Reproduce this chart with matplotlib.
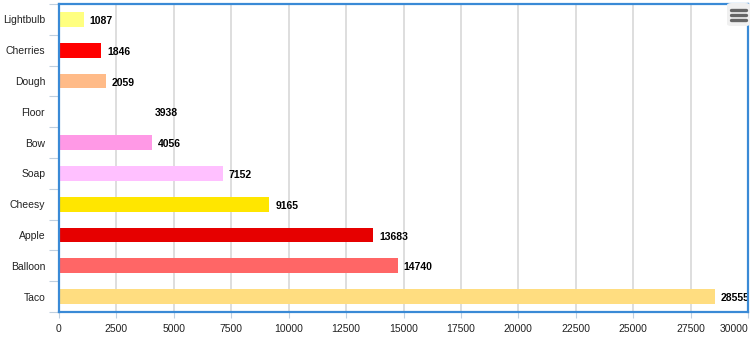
import numpy as np
import matplotlib.pyplot as plt
from matplotlib.patches import FancyBboxPatch
from matplotlib.ticker import FixedLocator

# data
categories = ["Lightbulb", "Cherries", "Dough", "Floor", "Bow",
              "Soap", "Cheesy", "Apple", "Balloon", "Taco"]
values = [1087, 1846, 2059, 3938, 4056, 7152, 9165, 13683, 14740, 28555]
bar_colors = ["#ffff80", "#ff0000", "#ffbb88", "none", "#ff99e6",
              "#ffc0ff", "#ffe600", "#e60000", "#ff6666", "#ffdd80"]
x_ticks = list(range(0, 30001, 2500))

plt.rcParams['font.family'] = ['Liberation Sans', 'DejaVu Sans']

fig = plt.figure(figsize=(7.55, 3.39), dpi=100)
ax = fig.add_axes([59 / 755, 1 - 312 / 339, 689 / 755, 308 / 339])

y = np.arange(len(categories))
ax.barh(y, values, height=0.48, color=bar_colors, zorder=3)

for yi, v in zip(y, values):
    ax.text(v + 250, yi + 0.05, str(v), va="center", ha="left",
            fontsize=7.5, fontweight="bold", color="#000000", zorder=4)

ax.set_xlim(0, 30000)
ax.set_ylim(len(categories) - 0.5, -0.5)

ax.set_xticks(x_ticks)
ax.set_xticklabels([str(t) for t in x_ticks])
ax.get_xticklabels()[-1].set_horizontalalignment("right")
ax.set_yticks(y)
ax.set_yticklabels(categories)
ax.yaxis.set_minor_locator(FixedLocator(np.arange(-0.5, len(categories), 1.0)))

ax.tick_params(axis="y", which="major", length=0, pad=10, labelsize=7.5,
               labelcolor="#222222")
ax.tick_params(axis="y", which="minor", length=7, width=0.8, color="#c0d0e0")
ax.tick_params(axis="x", which="major", length=4, width=0.8, color="#c0d0e0",
               labelsize=7.5, labelcolor="#222222", pad=5)

ax.grid(axis="x", color="#d8d8d8", linewidth=1.2, zorder=0)

for side in ["left", "right", "top", "bottom"]:
    ax.spines[side].set_color("#3a8ad6")
    ax.spines[side].set_linewidth(1.6)
    ax.spines[side].set_zorder(5)

# export menu button
btn = FancyBboxPatch((727 / 755, 1 - 26 / 339), 23 / 755, 23 / 339,
                     boxstyle="round,pad=0,rounding_size=0.006",
                     transform=fig.transFigure, facecolor="#f0f0f0",
                     edgecolor="none", zorder=10)
fig.patches.append(btn)
for yy in [9.5, 14.5, 19.5]:
    fig.add_artist(plt.Line2D([731 / 755, 746 / 755],
                              [1 - yy / 339, 1 - yy / 339],
                              transform=fig.transFigure, color="#666666",
                              linewidth=2.4, solid_capstyle="round", zorder=11))

fig.savefig("out.png", dpi=100)
